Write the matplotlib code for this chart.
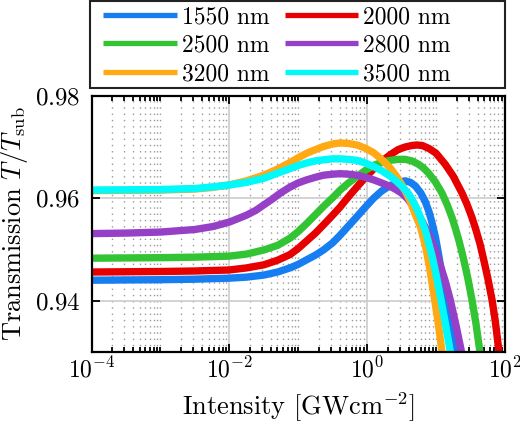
import matplotlib
matplotlib.use("Agg")
import matplotlib.pyplot as plt
from matplotlib.patches import Rectangle
from matplotlib.ticker import LogLocator, NullFormatter, FixedLocator
import numpy as np

plt.rcParams['font.family'] = 'cmr10'
plt.rcParams['mathtext.fontset'] = 'cm'
plt.rcParams['axes.unicode_minus'] = False
plt.rcParams['axes.formatter.use_mathtext'] = True

# log10 of intensity [GW/cm^2] and transmission T/T_sub
logI_1550 = [-4.0, -3.0, -2.5, -2.0, -1.75, -1.5, -1.3, -1.12, -1.0, -0.875,
             -0.75, -0.634, -0.5, -0.391, -0.27, -0.148, -0.03, 0.093, 0.21, 0.336,
             0.45, 0.554, 0.63, 0.70, 0.78, 0.845, 0.90, 0.942, 0.99, 1.038,
             1.09, 1.135, 1.21, 1.28, 1.30]
T_1550 = [0.9440, 0.9441, 0.9442, 0.9444, 0.9446, 0.9450, 0.9456, 0.9464, 0.9471, 0.9480,
          0.9489, 0.9499, 0.9513, 0.9528, 0.9546, 0.9564, 0.9582, 0.9600, 0.9614, 0.9625,
          0.9631, 0.9634, 0.9631, 0.9624, 0.9610, 0.9593, 0.9573, 0.9552, 0.9525, 0.9490,
          0.9448, 0.9410, 0.9350, 0.9290, 0.9272]

logI_2000 = [-4.0, -3.0, -2.5, -2.0, -1.75, -1.5, -1.3, -1.12, -1.0, -0.875,
             -0.75, -0.634, -0.5, -0.391, -0.27, -0.148, -0.03, 0.093, 0.21, 0.336,
             0.45, 0.55, 0.65, 0.72, 0.8, 0.9, 1.0, 1.135, 1.25, 1.378,
             1.45, 1.523, 1.58, 1.64, 1.692, 1.75, 1.814, 1.86, 1.91, 1.93]
T_2000 = [0.9456, 0.9457, 0.9458, 0.9460, 0.9464, 0.9470, 0.9479, 0.9490, 0.9502, 0.9517,
          0.9532, 0.9548, 0.9567, 0.9583, 0.9603, 0.9622, 0.9640, 0.9657, 0.9672, 0.9685,
          0.9695, 0.9700, 0.9703, 0.9704, 0.9703, 0.9697, 0.9688, 0.9666, 0.9643, 0.9610,
          0.9588, 0.9562, 0.9538, 0.9510, 0.9480, 0.9445, 0.9401, 0.9360, 0.9305, 0.9280]

logI_2500 = [-4.0, -3.0, -2.5, -2.0, -1.75, -1.5, -1.3, -1.12, -1.0, -0.875,
             -0.75, -0.634, -0.5, -0.391, -0.27, -0.148, -0.03, 0.093, 0.21, 0.336,
             0.45, 0.55, 0.65, 0.75, 0.82, 0.892, 0.99, 1.087, 1.16, 1.233,
             1.28, 1.329, 1.37, 1.402, 1.46, 1.523, 1.58, 1.634, 1.66]
T_2500 = [0.9483, 0.9484, 0.9485, 0.9487, 0.9491, 0.9499, 0.9508, 0.9522, 0.9535, 0.9551,
          0.9568, 0.9584, 0.9601, 0.9616, 0.9630, 0.9642, 0.9654, 0.9664, 0.9670, 0.9674,
          0.9676, 0.9676, 0.9673, 0.9666, 0.9659, 0.9649, 0.9632, 0.9610, 0.9588, 0.9562,
          0.9542, 0.9519, 0.9498, 0.9480, 0.9445, 0.9401, 0.9355, 0.9303, 0.9275]

logI_2800 = [-4.0, -3.5, -3.0, -2.5, -2.23, -1.99, -1.75, -1.62, -1.5, -1.38,
             -1.26, -1.117, -1.0, -0.875, -0.75, -0.634, -0.5, -0.391, -0.27, -0.148,
             -0.03, 0.093, 0.21, 0.336, 0.42, 0.5, 0.58, 0.651, 0.75, 0.845,
             0.92, 0.99, 1.06, 1.13, 1.208, 1.29, 1.37, 1.39]
T_2800 = [0.9531, 0.9532, 0.9534, 0.9539, 0.9545, 0.9554, 0.9567, 0.9576, 0.9587, 0.9598,
          0.9610, 0.9622, 0.9630, 0.9636, 0.9641, 0.9645, 0.9647, 0.9648, 0.9647, 0.9645,
          0.9641, 0.9636, 0.9630, 0.9623, 0.9617, 0.9610, 0.9600, 0.9588, 0.9567, 0.9543,
          0.9521, 0.9499, 0.9470, 0.9440, 0.9401, 0.9352, 0.9300, 0.9285]

logI_3200 = [-4.0, -3.0, -2.5, -2.25, -2.0, -1.75, -1.5, -1.3, -1.117, -1.0,
             -0.875, -0.75, -0.634, -0.5, -0.391, -0.27, -0.148, -0.03, 0.093, 0.21,
             0.336, 0.42, 0.5, 0.57, 0.626, 0.7, 0.772, 0.85, 0.91, 0.965,
             1.03, 1.087, 1.11]
T_3200 = [0.9615, 0.9616, 0.9618, 0.9621, 0.9626, 0.9634, 0.9645, 0.9657, 0.9670, 0.9679,
          0.9688, 0.9695, 0.9701, 0.9706, 0.9708, 0.9707, 0.9704, 0.9698, 0.9689, 0.9676,
          0.9659, 0.9644, 0.9627, 0.9610, 0.9594, 0.9568, 0.9545, 0.9505, 0.9462, 0.9415,
          0.9358, 0.9300, 0.9275]

logI_3500 = [-4.0, -3.0, -2.5, -2.25, -2.0, -1.75, -1.5, -1.3, -1.117, -1.0,
             -0.875, -0.75, -0.634, -0.5, -0.391, -0.27, -0.148, -0.03, 0.093, 0.21,
             0.336, 0.42, 0.5, 0.6, 0.68, 0.747, 0.845, 0.942, 1.0, 1.053,
             1.13, 1.208, 1.23]
T_3500 = [0.9616, 0.9617, 0.9619, 0.9622, 0.9626, 0.9631, 0.9639, 0.9649, 0.9658, 0.9664,
          0.9669, 0.9673, 0.9675, 0.9677, 0.9677, 0.9676, 0.9674, 0.9669, 0.9662, 0.9654,
          0.9643, 0.9634, 0.9624, 0.9609, 0.9591, 0.9572, 0.9537, 0.9488, 0.9452, 0.9415,
          0.9360, 0.9300, 0.9283]

labels = ['1550 nm', '2000 nm', '2500 nm', '2800 nm', '3200 nm', '3500 nm']
colors = ['#167ef0', '#e60000', '#33c433', '#9640c8', '#ffaa14', '#00fafa']
series = [(logI_1550, T_1550), (logI_2000, T_2000), (logI_2500, T_2500),
          (logI_2800, T_2800), (logI_3200, T_3200), (logI_3500, T_3500)]

fig = plt.figure(figsize=(5.2, 4.24), dpi=100)
ax = fig.add_axes([0.176, 0.170, 0.795, 0.604])

lines = []
for (lx, t), lab, c in zip(series, labels, colors):
    ln, = ax.plot(10 ** np.array(lx), t, color=c, lw=5.3, label=lab,
                  solid_capstyle='butt', solid_joinstyle='round')
    lines.append(ln)

ax.set_xscale('log')
ax.set_xlim(1e-4, 1e2)
ax.set_ylim(0.93, 0.98)
ax.xaxis.set_major_locator(FixedLocator([1e-4, 1e-2, 1e0, 1e2]))
ax.xaxis.set_minor_locator(LogLocator(base=10, subs=np.arange(1, 10), numticks=20))
ax.xaxis.set_minor_formatter(NullFormatter())
ax.set_yticks([0.94, 0.96, 0.98])

ax.grid(True, which='major', color='#cccccc', lw=1.2)
ax.grid(True, which='minor', axis='x', color='#999999', lw=1.0, linestyle=(0, (1, 3.5)))
ax.set_axisbelow(True)

ax.tick_params(which='both', direction='in', top=True, right=True, width=1.3)
ax.tick_params(axis='x', labelsize=17)
ax.tick_params(axis='y', labelsize=18, pad=8)
ax.tick_params(which='major', length=6)
ax.tick_params(which='minor', length=3.5)
for s in ax.spines.values():
    s.set_linewidth(1.6)

ax.set_xlabel(r'Intensity [GWcm$^{-2}$]', fontsize=19, labelpad=6)
ax.set_ylabel(r'Transmission $T/T_\mathrm{sub}$', fontsize=19)
ax.yaxis.set_label_coords(-0.15, 0.5)

# legend entries without frame, box drawn separately (box is wider than its content)
order = [0, 2, 4, 1, 3, 5]
leg = ax.legend([lines[i] for i in order], [labels[i] for i in order],
                loc='upper left', bbox_to_anchor=(103 / 520, 1 - 6 / 424),
                bbox_transform=fig.transFigure, borderaxespad=0, borderpad=0,
                ncol=2, fontsize=17, handlelength=3.13, handletextpad=0.21,
                labelspacing=0.27, columnspacing=0.64, frameon=False)
for h in leg.get_lines():
    h.set_linewidth(3.8)
fig.patches.append(Rectangle((90 / 520, 1 - 88 / 424), 415 / 520, 87 / 424,
                             transform=fig.transFigure, fill=False,
                             edgecolor='#222222', lw=1.5))

fig.savefig('out.png', dpi=100)
